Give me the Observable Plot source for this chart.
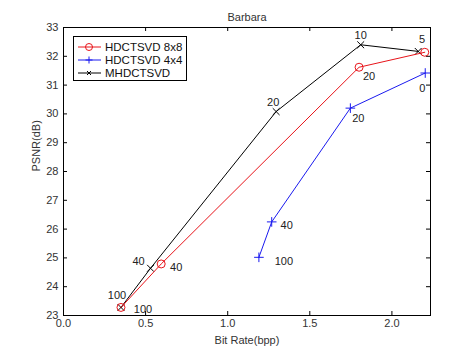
<!DOCTYPE html>
<html><head><meta charset="utf-8">
<script src="https://cdn.jsdelivr.net/npm/d3@7"></script>
<script src="https://cdn.jsdelivr.net/npm/@observablehq/plot@0.6"></script>
<style>
body{margin:0;background:#fff;font-family:"Liberation Sans",Arial,sans-serif;}
#wrap{position:relative;width:474px;height:354px;}
#legend{position:absolute;left:73px;top:36px;width:114px;height:45px;border:1px solid #000;background:#fff;box-sizing:border-box;font-size:11.5px;color:#111;}
#legend .row{position:absolute;left:4px;height:13px;display:flex;align-items:center;}
#legend svg{margin-right:4px;}
</style></head>
<body><div id="wrap"><div id="chart"></div><div id="legend"></div></div>
<script>
const title = "Barbara";
const xLabel = "Bit Rate(bpp)";
const yLabel = "PSNR(dB)";
const xTicks = [0, 0.5, 1, 1.5, 2];
const yTicks = [23, 24, 25, 26, 27, 28, 29, 30, 31, 32, 33];

const seriesNames = ["HDCTSVD 8x8", "HDCTSVD 4x4", "MHDCTSVD"];

const red8x8Rate = [0.35, 0.595, 1.80, 2.20];
const red8x8Psnr = [23.28, 24.79, 31.62, 32.14];
const red8x8Labels = ["100", "40", "20", ""];

const blue4x4Rate = [1.19, 1.268, 1.747, 2.203];
const blue4x4Psnr = [25.02, 26.25, 30.2, 31.42];
const blue4x4Labels = ["100", "40", "20", "0"];

const blackRate = [0.35, 0.53, 1.295, 1.81, 2.16];
const blackPsnr = [23.28, 24.64, 30.08, 32.4, 32.17];
const blackLabels = ["100", "40", "20", "10", "5"];

// label placement offsets (pixels), styling only
const redOff = [[22, 2], [15, 4], [10, 9], [0, 0]];
const blueOff = [[25, 4], [15, 4], [8, 10], [-3, 15]];
const blackOff = [[-4, -12], [-12, -7], [-3, -9], [0, -9], [4, -12]];

const colors = {"HDCTSVD 8x8": "#e8141a", "HDCTSVD 4x4": "#1a1aef", "MHDCTSVD": "#000"};
const symbols = {"HDCTSVD 8x8": "circle", "HDCTSVD 4x4": "plus", "MHDCTSVD": "times"};

function build(name, rates, psnrs, labels, offs) {
  return rates.map((r, i) => ({series: name, rate: r, psnr: psnrs[i], label: labels[i], dx: offs[i][0], dy: offs[i][1]}));
}
const red = build(seriesNames[0], red8x8Rate, red8x8Psnr, red8x8Labels, redOff);
const blue = build(seriesNames[1], blue4x4Rate, blue4x4Psnr, blue4x4Labels, blueOff);
const black = build(seriesNames[2], blackRate, blackPsnr, blackLabels, blackOff);

const W = 474, H = 354, mL = 63, mR = 44, mT = 27, mB = 39;
const innerH = H - mT - mB, innerW = W - mL - mR;

function seriesMarks(data) {
  const name = data[0].series;
  const c = colors[name];
  const marks = [
    Plot.line(data, {x: "rate", y: "psnr", stroke: c, strokeWidth: 1}),
    Plot.dot(data, {x: "rate", y: "psnr", stroke: c, symbol: symbols[name], r: name === "HDCTSVD 8x8" ? 4 : 3.2, strokeWidth: 1, fill: "none"})
  ];
  data.forEach(d => {
    if (d.label) marks.push(Plot.text([d], {x: "rate", y: "psnr", text: "label", dx: d.dx, dy: d.dy, fill: "#222", fontSize: 11}));
  });
  return marks;
}

const chart = Plot.plot({
  width: W, height: H,
  marginLeft: mL, marginRight: mR, marginTop: mT, marginBottom: mB,
  style: {fontFamily: "Liberation Sans, Arial, sans-serif", fontSize: "11px", background: "#fff", color: "#222"},
  x: {domain: [0, 2.235], ticks: xTicks},
  y: {domain: [23, 33], ticks: yTicks},
  marks: [
    Plot.frame({stroke: "#000"}),
    Plot.axisX(xTicks, {tickSize: 0, tickPadding: 4, label: null, fontSize: 11, fill: "#333"}),
    Plot.axisY(yTicks, {tickSize: 0, tickPadding: 5, label: null, fontSize: 11, fill: "#333"}),
    Plot.tickX(xTicks, {x: d => d, insetTop: innerH - 4, stroke: "#000"}),
    Plot.tickX(xTicks, {x: d => d, insetBottom: innerH - 4, stroke: "#000"}),
    Plot.tickY(yTicks, {y: d => d, insetRight: innerW - 4, stroke: "#000"}),
    Plot.tickY(yTicks, {y: d => d, insetLeft: innerW - 4, stroke: "#000"}),
    ...seriesMarks(black),
    ...seriesMarks(red),
    ...seriesMarks(blue),
    Plot.text([title], {frameAnchor: "top", dy: -14, fontSize: 11, fill: "#333"}),
    Plot.text([xLabel], {frameAnchor: "bottom", dy: 28, fontSize: 11, fill: "#333"}),
    Plot.text([yLabel], {frameAnchor: "left", dx: -27, rotate: -90, fontSize: 11, fill: "#333"})
  ]
});
document.getElementById("chart").appendChild(chart);

const legend = document.getElementById("legend");
seriesNames.forEach((name, i) => {
  const row = document.createElement("div");
  row.className = "row";
  row.style.top = (3 + i * 13) + "px";
  const c = colors[name];
  let sym = "";
  if (symbols[name] === "circle") sym = `<circle cx="11" cy="6" r="3.5" fill="none" stroke="${c}"/>`;
  else if (symbols[name] === "plus") sym = `<path d="M11 2.5V9.5M7.5 6H14.5" stroke="${c}"/>`;
  else sym = `<path d="M9 4L13 8M13 4L9 8" stroke="${c}"/>`;
  row.innerHTML = `<svg width="23" height="12"><line x1="0" x2="23" y1="6" y2="6" stroke="${c}"/>${sym}</svg><span>${name}</span>`;
  legend.appendChild(row);
});
</script></body></html>
